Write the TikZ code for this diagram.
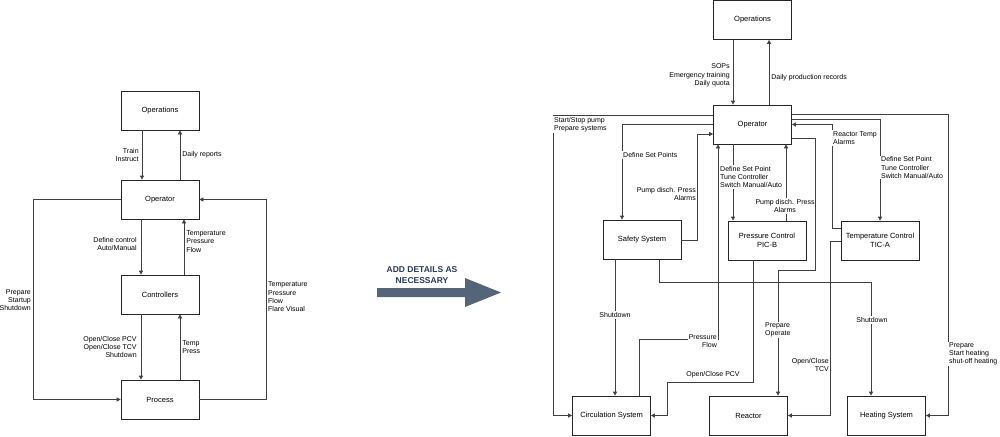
\documentclass[tikz,border=0pt]{standalone}
\usepackage{fontspec}
\setmainfont{Liberation Sans}
\usetikzlibrary{arrows.meta}
\definecolor{arrowgray}{RGB}{84,101,122}
\definecolor{arrowtext}{RGB}{40,58,84}
\begin{document}
\begin{tikzpicture}[x=1pt,y=-1pt,
 box/.style={draw=black!85,line width=0.7pt,minimum width=78pt,minimum height=39pt,inner sep=0pt,font=\fontsize{7.5}{8.5}\selectfont,align=center},
 con/.style={draw=black!75,line width=0.7pt,-{Triangle[length=4pt,width=4pt]}},
 lbl/.style={font=\fontsize{7}{8.3}\selectfont,inner sep=1pt,fill=white},
 lr/.style={lbl,align=right,anchor=east},
 ll/.style={lbl,align=left,anchor=west},
 lc/.style={lbl,align=center}]
\useasboundingbox (0,0) rectangle (1000,436);
% left diagram
\node[box] (ops) at (160,110.5) {Operations};
\node[box] (op) at (160,199.5) {Operator};
\node[box] (ctl) at (160,294.5) {Controllers};
\node[box] (pr) at (160,399.5) {Process};
\draw[con] (ops.south -| 142,0) -- (op.north -| 142,0) node[lr,midway,xshift=-2pt] {Train\\Instruct};
\draw[con] (op.north -| 180,0) -- (ops.south -| 180,0) node[ll,midway,xshift=1pt] {Daily reports};
\draw[con] (op.south -| 141,0) -- (ctl.north -| 141,0) node[lr,pos=0.45,xshift=-3pt] {Define control\\Auto/Manual};
\draw[con] (ctl.north -| 184,0) -- (op.south -| 184,0) node[ll,pos=0.6,xshift=1pt] {Temperature\\Pressure\\Flow};
\draw[con] (ctl.south -| 141,0) -- (pr.north -| 141,0) node[lr,midway,xshift=-3pt] {Open/Close PCV\\Open/Close TCV\\Shutdown};
\draw[con] (pr.north -| 180,0) -- (ctl.south -| 180,0) node[ll,midway,xshift=1pt] {Temp\\Press};
\draw[con] (op.west) -- (33,199.5) -- (33,399.5) -- (pr.west);
\node[lr] at (32,300) {Prepare\\Startup\\Shutdown};
\draw[con] (pr.east) -- (266,399.5) -- (266,199.5) -- (op.east);
\node[ll] at (267,297) {Temperature\\Pressure\\Flow\\Flare Visual};
% big arrow
\fill[arrowgray] (377,288) -- (465,288) -- (465,278) -- (501,292.5) -- (465,307) -- (465,297) -- (377,297) -- cycle;
\node[font=\bfseries\fontsize{8.5}{11}\selectfont,text=arrowtext,align=center] (addtxt) at (422,275) {ADD DETAILS AS\\NECESSARY};
% right diagram
\node[box] (R-ops) at (752.5,20) {Operations};
\node[box] (R-op) at (752.5,124.5) {Operator};
\node[box] (saf) at (642,239.5) {Safety System};
\node[box] (pic) at (767,240.5) {Pressure Control\\PIC-B};
\node[box] (tic) at (880,240.5) {Temperature Control\\TIC-A};
\node[box] (circ) at (611.5,415.5) {Circulation System};
\node[box] (rea) at (748.5,415.5) {Reactor};
\node[box] (heat) at (886.5,415.5) {Heating System};
\draw[con] (R-ops.south -| 733,0) -- (R-op.north -| 733,0) node[lr,pos=0.55,xshift=-2pt] {SOPs\\Emergency training\\Daily quota};
\draw[con] (R-op.north -| 769,0) -- (R-ops.south -| 769,0) node[ll,pos=0.42,xshift=1pt] {Daily production records};
\draw[con] (R-op.west |- 0,115) -- (553,115) -- (553,415.5) -- (circ.west);
\node[ll,anchor=north west] at (553,116) {Start/Stop pump\\Prepare systems};
\draw[con] (R-op.west |- 0,124) -- (622,124) -- (saf.north -| 622,0);
\node[ll] at (622,155) {Define Set Points};
\draw[con] (saf.east |- 0,240) -- (697,240) -- (697,134) -- (R-op.west |- 0,134);
\node[lr] at (697,194) {Pump disch. Press\\Alarms};
\draw[con] (R-op.south -| 733,0) -- (pic.north -| 733,0);
\node[ll] at (719,177) {Define Set Point\\Tune Controller\\Switch Manual/Auto};
\draw[con] (pic.north -| 786,0) -- (R-op.south -| 786,0);
\node[lc] at (785,206) {Pump disch. Press\\Alarms};
\draw[con] (R-op.east |- 0,119) -- (880,119) -- (tic.north);
\node[ll] at (880,167.5) {Define Set Point\\Tune Controller\\Switch Manual/Auto};
\draw[con] (tic.west |- 0,228) -- (832,228) -- (832,124.5) -- (R-op.east |- 0,124.5);
\node[ll] at (832,138) {Reactor Temp\\Alarms};
\draw[con] (R-op.east |- 0,138) -- (815,138) -- (815,270) -- (778,270) -- (rea.north -| 778,0);
\node[ll] at (764,330) {Prepare\\Operate};
\draw[con] (R-op.east |- 0,114) -- (948,114) -- (948,415.5) -- (heat.east);
\node[ll] at (948,354) {Prepare\\Start heating\\shut-off heating};
\draw[con] (circ.north -| 639,0) -- (639,339) -- (718,339) -- (R-op.south -| 718,0);
\node[lr] at (718,341) {Pressure\\Flow};
\draw[con] (pic.south -| 753,0) -- (753,382) -- (667,382) -- (667,415.5) -- (circ.east);
\node[lc] at (713,375) {Open/Close PCV};
\draw[con] (tic.west |- 0,241) -- (830,241) -- (830,415.5) -- (rea.east);
\node[lr] at (830,365) {Open/Close\\TCV};
\draw[con] (saf.south -| 615,0) -- (circ.north -| 615,0);
\node[lc] at (615,315) {Shutdown};
\draw[con] (saf.south -| 659,0) -- (659,282) -- (871,282) -- (heat.north -| 871,0);
\node[lc] at (872,320) {Shutdown};
\end{tikzpicture}
\end{document}
